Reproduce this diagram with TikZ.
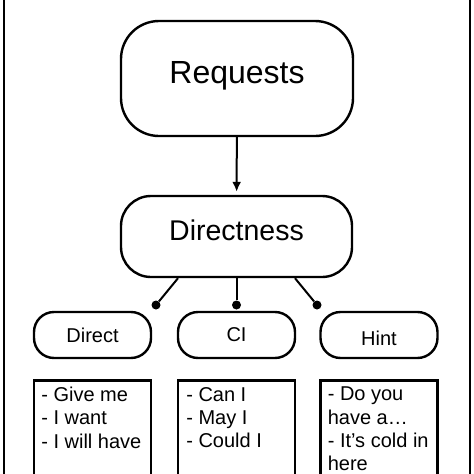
\documentclass[tikz,border=0pt]{standalone}
\usepackage{fontspec}
\setmainfont{Liberation Sans}
\usetikzlibrary{arrows.meta}
\usetikzlibrary{positioning}
\tikzstyle{top box}=[draw, line width=2.4pt, rounded corners=38pt,
                minimum width=232pt, minimum height=115pt, text depth=12pt,
                font=\fontsize{32}{36}\selectfont]
\tikzstyle{mid box}=[draw, line width=2.4pt, rounded corners=30pt,
                minimum width=231pt, minimum height=81pt, text depth=12pt,
                font=\fontsize{28.5}{32}\selectfont]
\tikzstyle{type box}=[draw, line width=2.4pt, rounded corners=20pt,
                minimum width=117pt, minimum height=46pt,
                font=\fontsize{20}{24}\selectfont]
\tikzstyle{list box}=[draw, line width=2.4pt, minimum width=117pt,
                minimum height=120pt]
\tikzstyle{list text}=[inner sep=0pt, outer sep=0pt, align=left,
                font=\fontsize{20}{23.3}\selectfont]
\tikzstyle{hit}=[line width=2pt, -{Latex[length=10pt,width=9pt]}, shorten >=3pt]
\tikzstyle{link}=[line width=2pt]
\tikzstyle{dot}=[circle, fill=black, minimum size=9pt, inner sep=0pt]

\begin{document}
\begin{tikzpicture}[x=1pt,y=-1pt]
\useasboundingbox (0,0) rectangle (474,474);
\clip (0,0) rectangle (474,474);
\draw[line width=2pt] (4,-10) rectangle (470,490); % frame

\node[top box] (req) at (237,78.5) {Requests};
\node[mid box] (dir) at (236.5,236.5) {Directness};
\draw[hit] (req) -- (dir);

\node[dot] (dl) at (156,305) {};
\node[dot] (dm) at (236.5,305) {};
\node[dot] (dr) at (317,305) {};
\draw[link] ([xshift=-58.5pt]dir.south) -- (dl);
\draw[link] (dir) -- (dm);
\draw[link] ([xshift=58.5pt]dir.south) -- (dr);

\node[type box] (direct) at (92.5,335) {Direct};
\node[type box] (ci) at (236.5,335) {CI};
\node[type box, text height=20.5pt] (hint) at (379,335) {Hint};

\node[list box, below=20pt of direct] (dlist) {};
\node[list box, below=20pt of ci] (clist) {};
\node[list box, below=20pt of hint] (hlist) {};

\node[list text, below right=8pt and 8.5pt of dlist.north west] (dtxt)
  {- Give me\\- I want\\- I will have};
\node[list text, below right=8pt and 9.5pt of clist.north west] (ctxt)
  {- Can I\\- May I\\- Could I};
\node[list text, below right=8pt and 8.5pt of hlist.north west] (htxt)
  {- Do you\\have a…\\- It’s cold in\\here};
\end{tikzpicture}
\end{document}
